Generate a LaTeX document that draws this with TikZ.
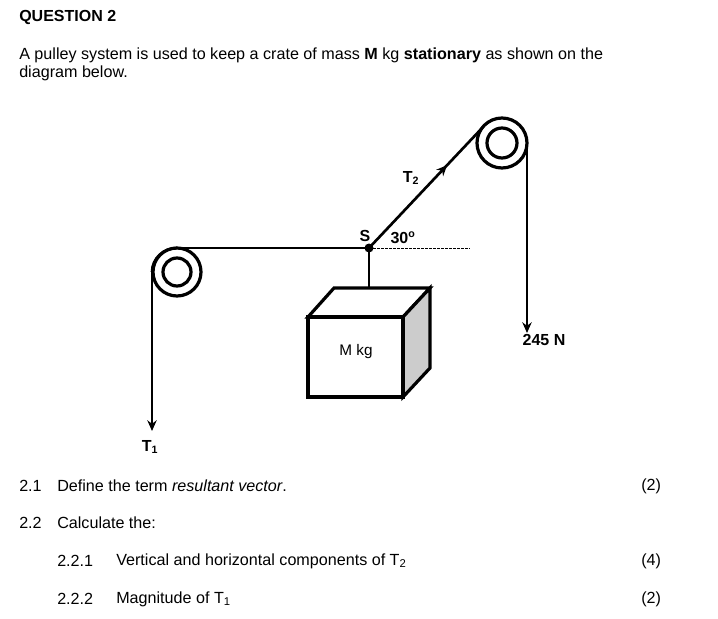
\documentclass[tikz,border=0pt]{standalone}
\usepackage{fontspec}
\setmainfont{Liberation Sans}
\usetikzlibrary{arrows.meta,decorations.markings}
\begin{document}
\begin{tikzpicture}[x=0.75pt,y=-0.75pt,font=\fontsize{12.1}{14}\selectfont,
  txt/.style={anchor=west,inner sep=0pt},
  lbl/.style={inner sep=0pt,font=\fontsize{12}{14}\selectfont\bfseries},
  rope/.style={line width=2pt},
  pull/.style={line width=2.4pt,draw,fill=white}]
\useasboundingbox (0,0) rectangle (718,618);
\fill[white] (0,0) rectangle (718,618);
% texts
\node[txt,font=\fontsize{12}{14}\selectfont\bfseries] (q) at (19,17) {QUESTION 2};
\node[txt] (p1) at (19,55) {A pulley system is used to keep a crate of mass \textbf{M} kg \textbf{stationary} as shown on the};
\node[txt] (p2) at (19,73) {diagram below.};
\node[txt] (a1) at (19,486) {2.1};
\node[txt] (a1t) at (57,486) {Define the term \textit{resultant vector}.};
\node[txt] (a1m) at (641,486) {(2)};
\node[txt] (a2) at (19,523) {2.2};
\node[txt] (a2t) at (57,523) {Calculate the:};
\node[txt] (b1) at (57,561) {2.2.1};
\node[txt] (b1t) at (116,561) {Vertical and horizontal components of T\textsubscript{2}};
\node[txt] (b1m) at (641,561) {(4)};
\node[txt] (b2) at (57,599) {2.2.2};
\node[txt] (b2t) at (116,599) {Magnitude of T\textsubscript{1}};
\node[txt] (b2m) at (641,599) {(2)};
% coordinates
\coordinate (S) at (369,248);
\coordinate (L) at (177,272);
\coordinate (R) at (502,143);
\coordinate (Ltop) at (177,248);
\coordinate (Lbot) at (152,272);
\coordinate (T1end) at (152,431);
\coordinate (Rtan) at (484,126);
\coordinate (Rside) at (527,143);
\coordinate (Rend) at (527,333);
\coordinate (D) at (470,248);
\coordinate (Btop) at (369,289);
% ropes
\draw[line width=0.7pt,dash pattern=on 2pt off 1pt] (S) -- (D);
\draw[rope] (Ltop) -- (S);
\draw[rope,-{Stealth[length=8pt,width=7pt]}] (Lbot) -- (T1end);
\draw[rope,postaction={decorate},decoration={markings,mark=at position 0.68 with {\arrow{Stealth[length=8pt,width=7pt]}}}] (S) -- (Rtan);
\draw[rope,-{Stealth[length=8pt,width=7pt]}] (Rside) -- (Rend);
\draw[rope] (S) -- (Btop);
\fill (S) circle (4.5);
% pulleys
\draw[pull] (L) circle (24);
\draw[line width=2.4pt] (L) circle (14);
\draw[pull] (R) circle (25);
\draw[line width=2.4pt] (R) circle (15);
\draw[rope] (Ltop) arc (270:180:25 and 24);
% crate
\coordinate (f1) at (308,317);
\coordinate (f2) at (403,317);
\coordinate (f3) at (403,397);
\coordinate (f4) at (308,397);
\coordinate (b1c) at (334,288);
\coordinate (b2c) at (430,288);
\coordinate (b3c) at (430,368);
\draw[line width=2.4pt,fill=white,line join=miter] (f1) -- (b1c) -- (b2c) -- (f2) -- cycle;
\draw[line width=2.4pt,fill=gray!40,line join=miter] (f2) -- (b2c) -- (b3c) -- (f3) -- cycle;
\draw[line width=2.4pt,fill=white] (f1) rectangle (f3);
% labels
\node[lbl,font=\fontsize{11.5}{13}\selectfont] (mk) at (356,352) {M kg};
\node[lbl] (t2) at (411,178) {T\textsubscript{2}};
\node[lbl] (s) at (365,236) {S};
\node[lbl] (ang) at (403,238) {30$^{\mathbf{o}}$};
\node[lbl] (n245) at (544,340) {245 N};
\node[lbl] (t1) at (150,447) {T\textsubscript{1}};
\end{tikzpicture}
\end{document}
